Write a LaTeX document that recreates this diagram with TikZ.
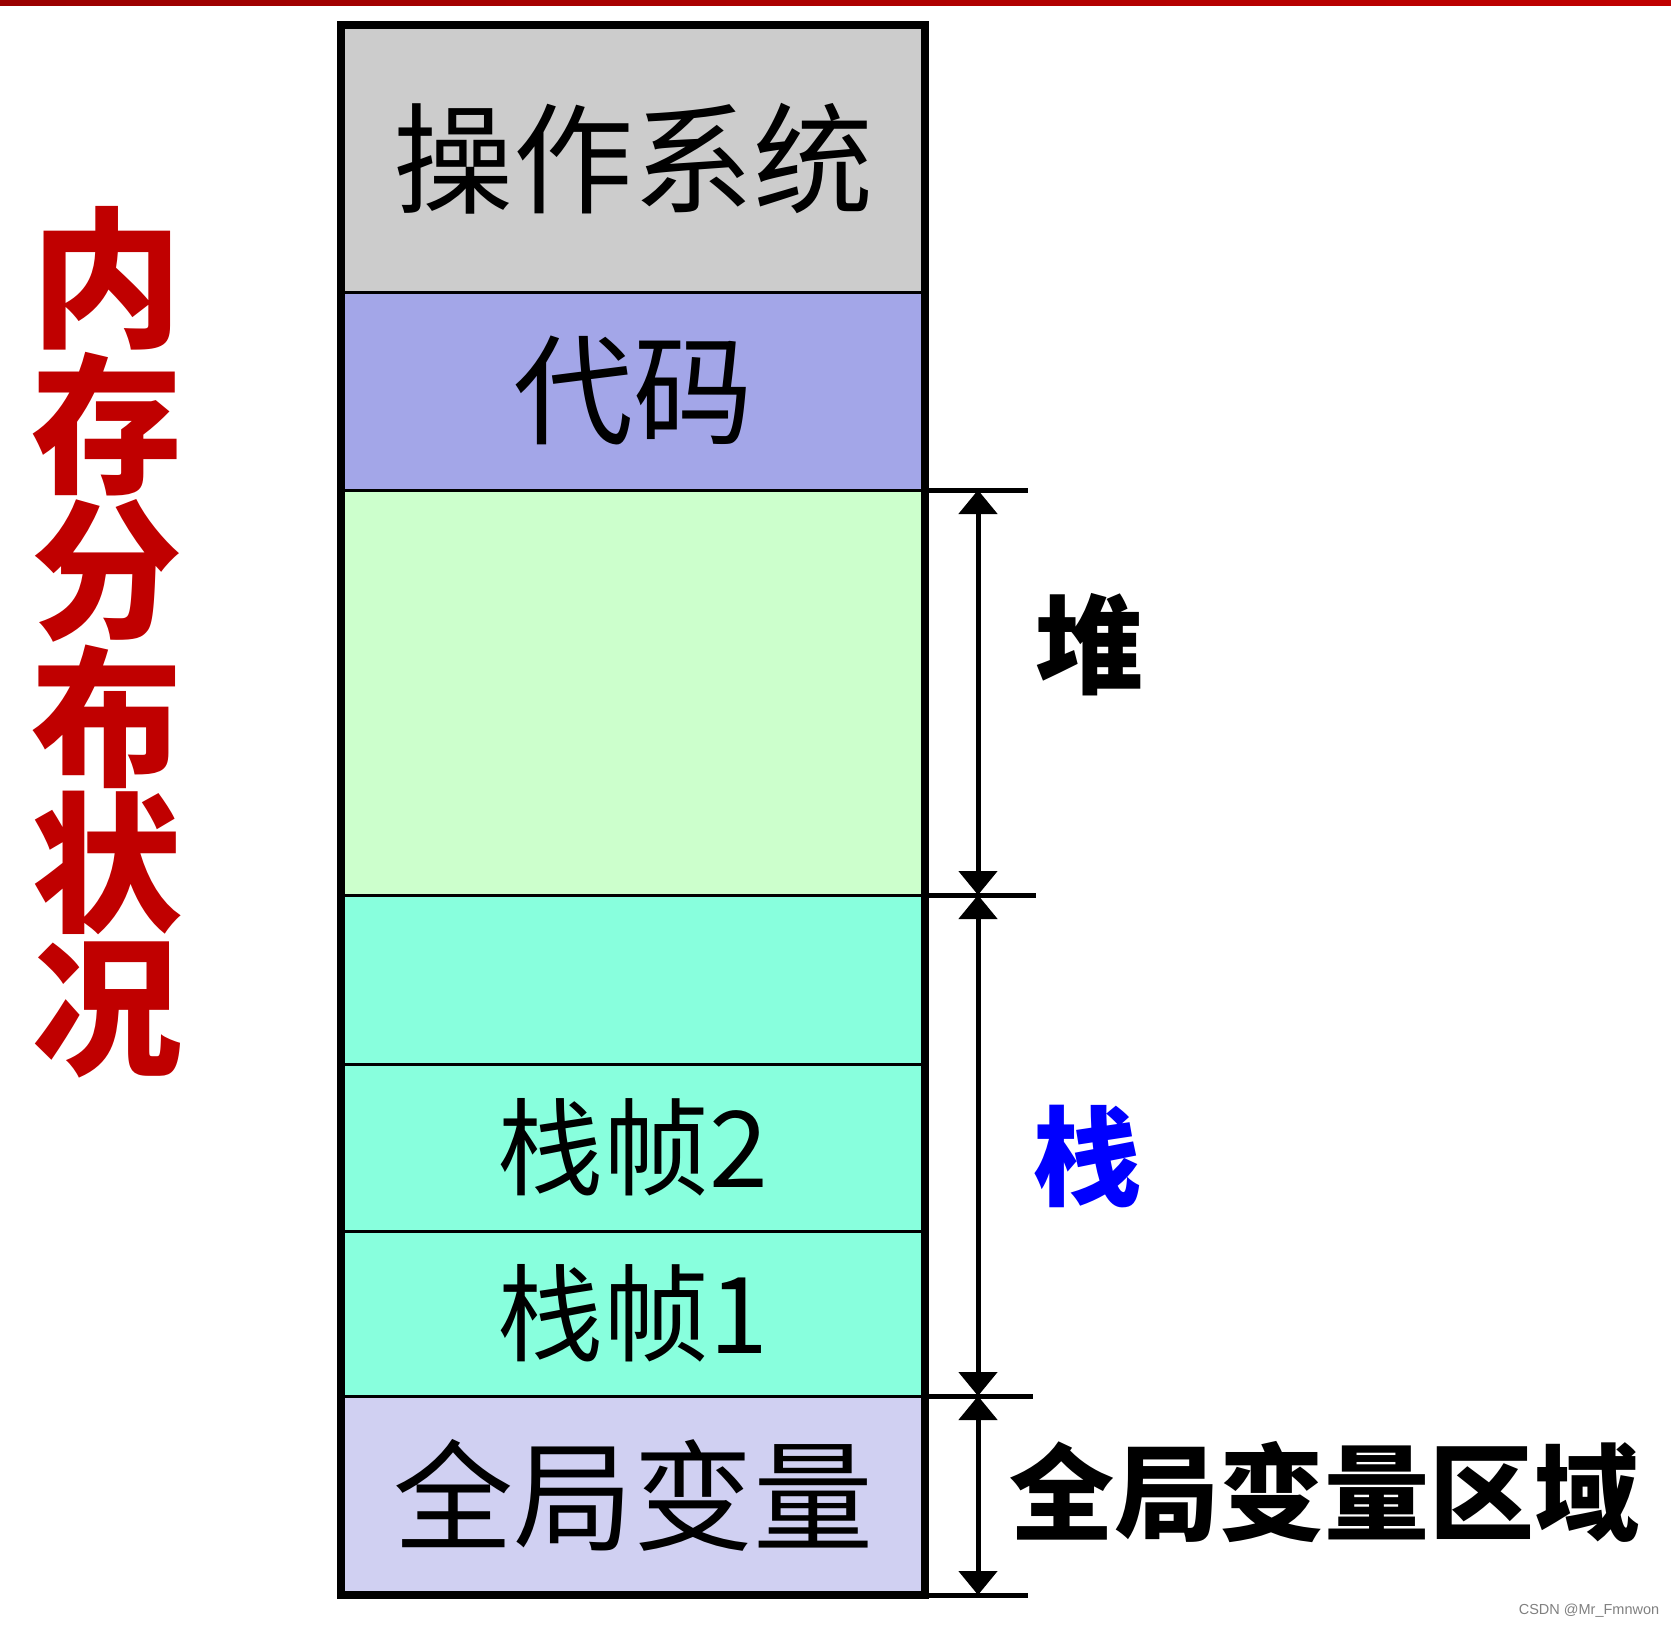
\documentclass[tikz,border=0pt]{standalone}
\usepackage{fontspec}
\newfontfamily\cjk{Noto Sans CJK SC}
\usetikzlibrary{arrows.meta}
\definecolor{osgray}{HTML}{CCCCCC}
\definecolor{codeblue}{HTML}{A3A6E8}
\definecolor{heapgreen}{HTML}{CCFFCC}
\definecolor{stackcyan}{HTML}{88FFDD}
\definecolor{globlav}{HTML}{D0D0F2}
\definecolor{titlered}{HTML}{C00000}
\definecolor{bardark}{HTML}{9A0000}

\begin{document}
\begin{tikzpicture}[
x=1pt, y=-1pt,
seg/.style={
draw,
line width=3pt,
anchor=north west,
minimum width=584pt,
inner sep=0pt,
outer sep=0pt,
font=\cjk\fontsize{120}{130}\selectfont,
},
myedge/.style={
line width=5pt,
<->,
>={Triangle[width=38pt,length=24pt]},
},
ext/.style={
line width=5pt,
},
side/.style={
font=\cjk\bfseries\fontsize{108}{120}\selectfont,
},
title/.style={
text=titlered,
font=\cjk\bfseries\fontsize{151}{160}\selectfont,
inner sep=0pt,
},
]
\useasboundingbox (0,0) rectangle (1671,1626);
\shade[left color=bardark, right color=titlered] (0,0) rectangle (1671,5);

% memory blocks, top to bottom
\node[seg, fill=osgray, minimum height=267pt] (os) at (341,25) {操作系统};
\node[seg, fill=codeblue, minimum height=198pt] (code) at (os.south west) {代码};
\node[seg, fill=heapgreen, minimum height=405pt] (heap) at (code.south west) {};
\node[seg, fill=stackcyan, minimum height=169pt] (free) at (heap.south west) {};
\node[seg, fill=stackcyan, minimum height=167pt, font=\cjk\fontsize{106}{116}\selectfont] (f2) at (free.south west) {栈帧2};
\node[seg, fill=stackcyan, minimum height=165pt, font=\cjk\fontsize{106}{116}\selectfont] (f1) at (f2.south west) {栈帧1};
\node[seg, fill=globlav, minimum height=199pt] (glob) at (f1.south west) {全局变量};
\draw[line width=8pt] (os.north west) rectangle (glob.south east);

\draw[ext] (heap.north east) -- ++(103,0);
\draw[ext] (heap.south east) -- ++(111,0);
\draw[ext] (f1.south east) -- ++(108,0);
\draw[ext] (glob.south east) -- ++(103,0);

\path (heap.north east) ++(53,0) coordinate (d1);
\path (heap.south east) ++(53,0) coordinate (d2);
\path (f1.south east) ++(53,0) coordinate (d3);
\path (glob.south east) ++(53,0) coordinate (d4);
\draw[myedge] (d1) -- (d2);
\draw[myedge] (d2) -- (d3);
\draw[myedge] (d3) -- (d4);

\node[side] (heaplbl) at (1089,645) {堆};
\node[side, text=blue] (stacklbl) at (1087,1156) {栈};
\node[side, font=\cjk\bfseries\fontsize{105}{115}\selectfont] (globlbl) at (1324,1492) {全局变量区域};

\foreach \ch [count=\i from 0] in {内,存,分,布,状,况}
  \node[title] (t\i) at (107,278+146.3*\i) {\ch};

\node[text=gray, font=\fontspec{Liberation Sans}\fontsize{14.5}{16}\selectfont] (mark) at (1589,1611) {CSDN @Mr\_Fmnwon};
\end{tikzpicture}
\end{document}
